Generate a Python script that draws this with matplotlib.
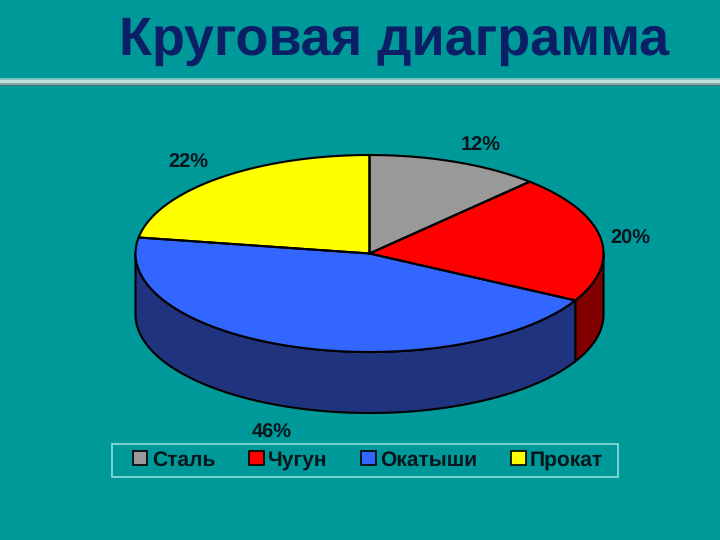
import numpy as np
import matplotlib
matplotlib.use("Agg")
import matplotlib.pyplot as plt
from matplotlib.patches import Wedge, Polygon, Patch, Rectangle
from matplotlib.transforms import Affine2D

categories = ["Сталь", "Чугун", "Окатыши", "Прокат"]
values = [12.0, 20.9, 44.7, 22.4]
percent_labels = ["12%", "20%", "46%", "22%"]
top_colors = ["#999999", "#ff0000", "#3366ff", "#ffff00"]
side_colors = ["#4d4d4d", "#800000", "#1f337f", "#808000"]
label_pos = [(481, 146), (630, 239), (272, 433), (188, 163)]

BG = "#009999"
plt.rcParams["font.family"] = ["Liberation Sans", "DejaVu Sans"]
plt.rcParams["text.hinting"] = "no_hinting"
plt.rcParams["text.hinting_factor"] = 1
fig = plt.figure(figsize=(7.2, 5.4), dpi=100, facecolor=BG)
ax = fig.add_axes([0, 0, 1, 1])
ax.set_xlim(0, 720)
ax.set_ylim(540, 0)
ax.axis("off")

# title and separator
ax.text(394, 41, "Круговая диаграмма", ha="center", va="center", fontsize=39,
        fontweight="bold", color="#0a1f66")
for y, h, c in [(78, 2, "#7fc4c4"), (80, 3, "#bfdede"), (83, 1.5, "#8aa8a8"), (84.5, 1.5, "#3f6f70")]:
    ax.add_patch(Rectangle((0, y), 720, h, fc=c, ec="none", zorder=1))

# pie geometry
cx, cy, a, b, depth = 369.5, 253.5, 234, 98.5, 61
tr = Affine2D().scale(a, b).translate(cx, cy) + ax.transData
fr = np.cumsum([0] + values) / sum(values)
starts, ends = fr[:-1] * 360 - 90, fr[1:] * 360 - 90   # clockwise from the top on screen (y is inverted)

for s, e, sc in zip(starts, ends, side_colors):
    lo, hi = max(s, 0), min(e, 180)
    if hi <= lo:
        continue
    t = np.radians(np.linspace(lo, hi, 120))
    x = cx + a * np.cos(t)
    y = cy + b * np.sin(t)
    pts = np.r_[np.c_[x, y], np.c_[x, y + depth][::-1]]
    ax.add_patch(Polygon(pts, closed=True, fc=sc, ec="black", lw=1.5, joinstyle="round", zorder=2))

for s, e, c in zip(starts, ends, top_colors):
    w = Wedge((0, 0), 1, s, e, fc=c, ec="none", transform=tr, zorder=3)
    ax.add_patch(w)
    t = np.radians(np.linspace(s, e, 200))
    x = np.r_[cx, cx + a * np.cos(t), cx]
    y = np.r_[cy, cy + b * np.sin(t), cy]
    ax.plot(x, y, color="black", lw=1.5, zorder=4, solid_joinstyle="round")

for lab, (x, y) in zip(percent_labels, label_pos):
    ax.text(x, y, lab, ha="center", va="center", fontsize=14.5, fontweight="bold", color="#08161c", zorder=5)

# legend frame and legend
ax.add_patch(Rectangle((112, 443.5), 506, 33.5, fc=BG, ec="#8fdede", lw=1.2, zorder=5))
handles = [Patch(fc=c, ec="black", lw=1.2) for c in top_colors]
leg = ax.legend(handles, categories, ncol=4, loc="center", bbox_to_anchor=(368 / 720, 1 - 460 / 540),
                frameon=False,
                prop={"size": 15.2, "weight": "bold"}, labelcolor="#08161c",
                handlelength=0.7, handleheight=0.7, handletextpad=0.2, columnspacing=1.6,
                borderpad=0.3, borderaxespad=0)
leg.set_zorder(6)

fig.savefig("out.png", dpi=100, facecolor=BG)
